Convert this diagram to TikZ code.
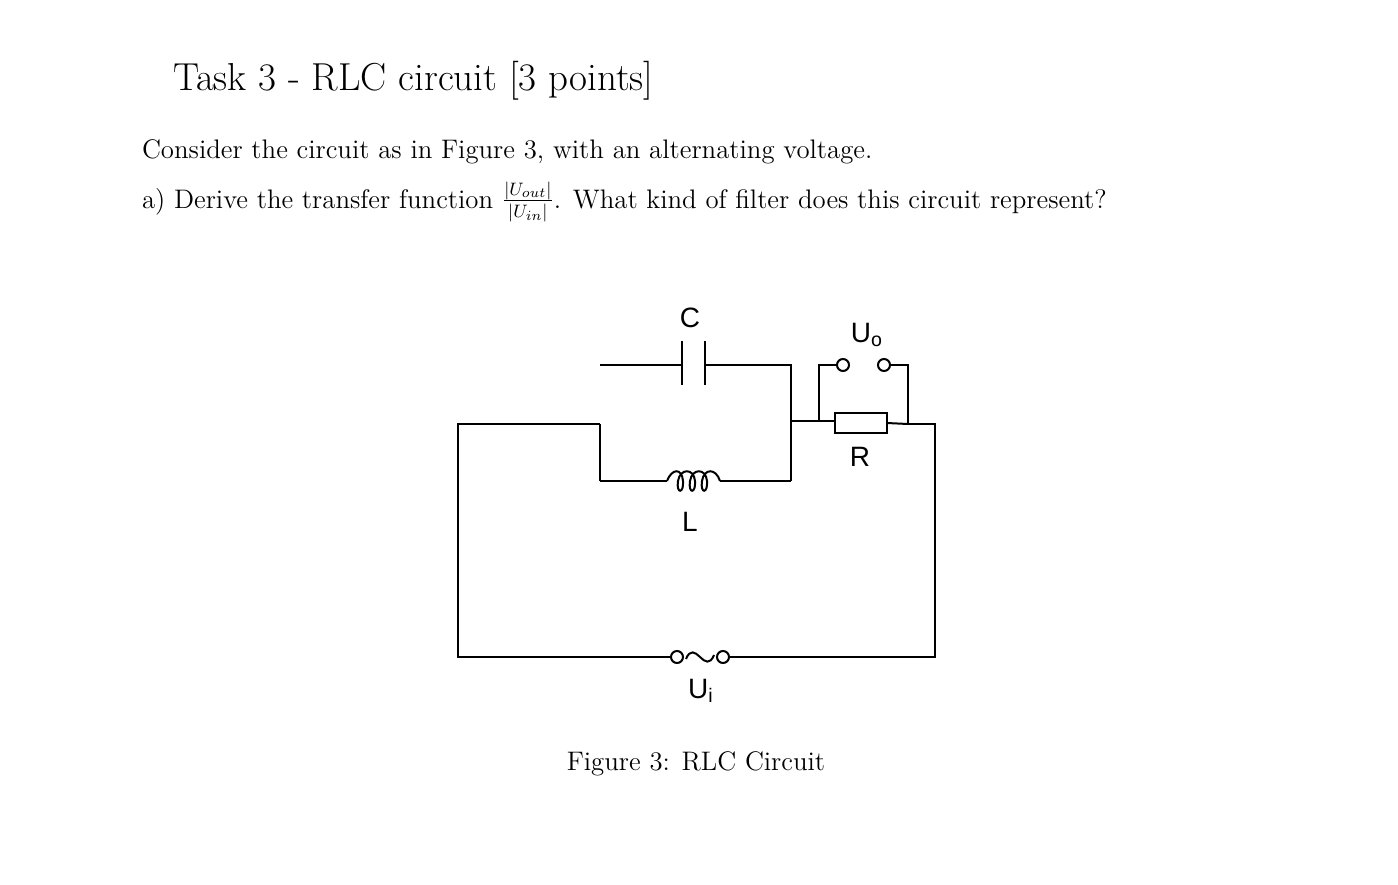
\documentclass[tikz,border=0pt]{standalone}
\usepackage{fontspec}
\newfontfamily\arialf{Liberation Sans}
\usetikzlibrary{decorations.pathmorphing}
\begin{document}
\begin{tikzpicture}[x=0.5pt,y=-0.5pt,line width=1pt,
  lbl/.style={font=\arialf\fontsize{14}{16}\selectfont,inner sep=0},
  term/.style={circle,draw,inner sep=0,minimum size=6pt,fill=white},
  txt/.style={anchor=base west,inner sep=0,font=\fontsize{13.4}{16}\selectfont}]
\useasboundingbox (0,0) rectangle (1398,884);
% text
\node[anchor=base west,inner sep=0,font=\fontsize{19.5}{22}\selectfont] (title) at (172,90) {Task 3 - RLC circuit [3 points]};
\node[txt] (l1) at (141,158) {Consider the circuit as in Figure 3, with an alternating voltage.};
\node[txt] (l2) at (141,208) {a) Derive the transfer function $\frac{|U_{out}|}{|U_{in}|}$. What kind of filter does this circuit represent?};
\node[anchor=base,inner sep=0,font=\fontsize{13.4}{16}\selectfont] (cap) at (696,770) {Figure 3: RLC Circuit};
% coordinates
\coordinate (A) at (458,424);
\coordinate (B) at (600,424);
\coordinate (BT) at (600,365);
\coordinate (BB) at (600,481);
\coordinate (DT) at (791,365);
\coordinate (DB) at (791,481);
\coordinate (D) at (791,421);
\coordinate (E) at (819,421);
\coordinate (F) at (908,424);
\coordinate (G) at (935,424);
\coordinate (GB) at (935,657);
\coordinate (AB) at (458,657);
% capacitor
\draw (BT) -- (682,365) (705,365) -- (DT) -- (DB);
\draw (682,341) -- (682,385) (705,341) -- (705,385);
% inductor
\draw (BB) -- (B) (BB) -- (667,481);
\draw (667,481) .. controls (672,468) and (682,468) .. (683,481) .. controls (684,494) and (676,494) .. (678,481)
 .. controls (680,468) and (694,468) .. (695,481) .. controls (696,494) and (688,494) .. (690,481)
 .. controls (692,468) and (706,468) .. (707,481) .. controls (708,494) and (700,494) .. (702,481)
 .. controls (704,468) and (716,468) .. (720,481);
\draw (720,481) -- (DB);
% outer
\draw (B) -- (A) -- (AB) -- (677,657);
\draw (723,657) -- (GB) -- (G) -- (F);
\draw (D) -- (E) -- (835,421);
\draw (887,423) -- (F);
\node[draw,minimum width=26pt,minimum height=10pt,inner sep=0] (R) at (861,423) {};
% Uo terminals
\draw (E) -- (819,365) -- (843,365);
\draw (884,365) -- (908,365) -- (F);
\node[term] (o1) at (843,365) {};
\node[term] (o2) at (884,365) {};
% source
\node[term] (s1) at (677,657) {};
\node[term] (s2) at (723,657) {};
\draw (686,659) .. controls (690,649) and (695,652) .. (700,657) .. controls (705,662) and (710,665) .. (714,655);
% labels
\node[lbl] (lC) at (690,318) {C};
\node[lbl] (lL) at (690,522) {L};
\node[lbl] (lR) at (860,457) {R};
\node[lbl] (lUo) at (867,335) {U\textsubscript{o}};
\node[lbl] (lUi) at (701,691) {U\textsubscript{i}};
\end{tikzpicture}
\end{document}
